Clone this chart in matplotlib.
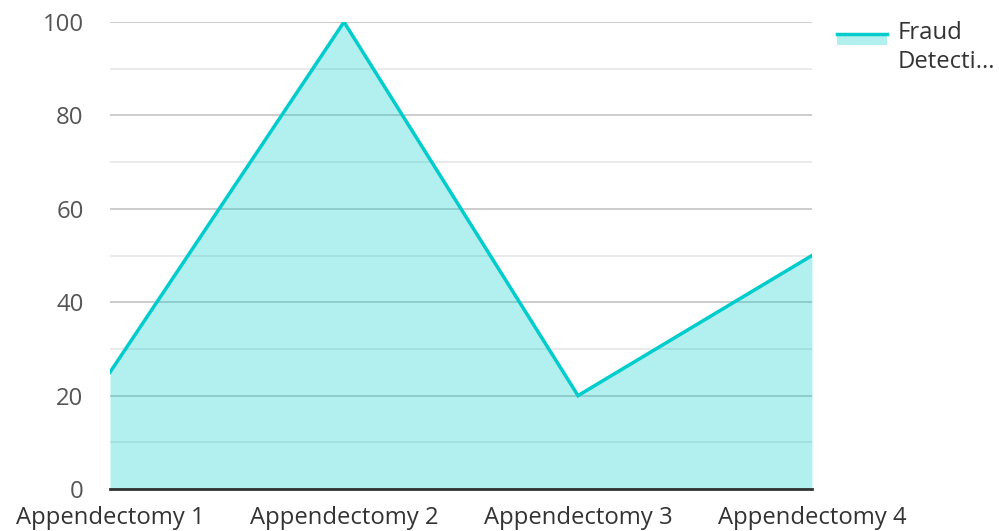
import matplotlib.pyplot as plt
from matplotlib.patches import Rectangle
from matplotlib.lines import Line2D

categories = ["Appendectomy 1", "Appendectomy 2", "Appendectomy 3", "Appendectomy 4"]
values = [25, 100, 20, 50]
series_name = "Fraud\nDetecti..."

plt.rcParams['font.family'] = ['Open Sans', 'DejaVu Sans']

fig = plt.figure(figsize=(9.99, 5.31), dpi=100)
ax = fig.add_axes([110 / 999, 1 - 489 / 531, (812 - 110) / 999, (489 - 22) / 531])

x = list(range(len(categories)))
ax.fill_between(x, values, 0, color='#00cccc', alpha=0.3, linewidth=0, zorder=2)
ax.plot(x, values, color='#00cccc', linewidth=2.5, zorder=3, solid_joinstyle='miter')

ax.set_xlim(0, len(categories) - 1)
ax.set_ylim(0, 100)
ax.set_yticks(range(0, 101, 20))
ax.set_yticks(range(10, 100, 20), minor=True)
ax.set_xticks(x)
ax.set_xticklabels(categories)

ax.set_axisbelow(True)
ax.grid(axis='y', which='major', color='#c4c4c4', linewidth=1.2)
ax.grid(axis='y', which='minor', color='#e6e6e6', linewidth=1.2)
for side in ['top', 'right', 'left']:
    ax.spines[side].set_visible(False)
ax.spines['bottom'].set_color('#333333')
ax.spines['bottom'].set_linewidth(2)
ax.spines['bottom'].set_zorder(4)

ax.tick_params(axis='both', which='both', length=0, labelsize=17.2, colors='#555555')
ax.tick_params(axis='y', pad=19)
ax.tick_params(axis='x', pad=12.5)
for lbl in ax.get_xticklabels():
    lbl.set_color('#333333')

# legend drawn by hand
fig.add_artist(Rectangle((837 / 999, 1 - 45 / 531), 50 / 999, 11 / 531,
                         transform=fig.transFigure, color='#00cccc', alpha=0.3, linewidth=0))
fig.add_artist(Line2D([837 / 999, 887 / 999], [1 - 34 / 531, 1 - 34 / 531],
                      transform=fig.transFigure, color='#00cccc', linewidth=2.5))
fig.text(898 / 999, 1 - 21 / 531, series_name, fontsize=17.2, color='#333333',
         va='top', ha='left', linespacing=1.3)

fig.savefig('out.png', dpi=100)
